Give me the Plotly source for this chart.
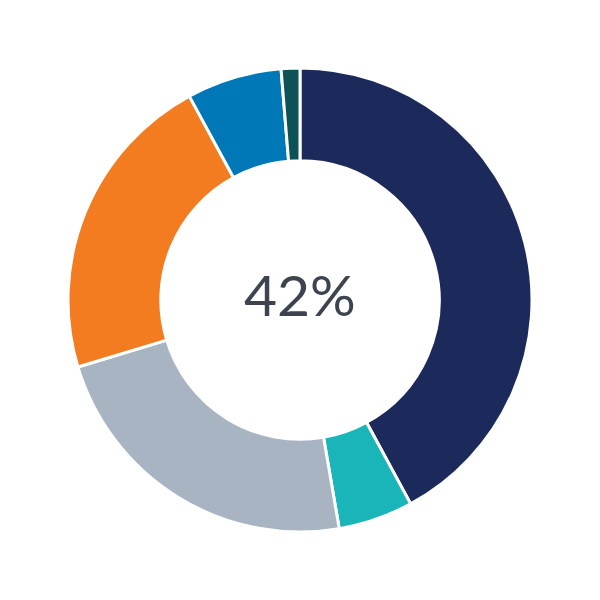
import plotly.graph_objects as go

labels = ['A', 'B', 'C', 'D', 'E', 'F']
values = [42, 5.2, 23, 21.7, 6.6, 1.3]
colors = ['#1b2a5a', '#1ab5b8', '#a9b4c2', '#f47c20', '#0077b6', '#0d5257']
center_text = '42%'

fig = go.Figure(go.Pie(
    labels=labels,
    values=values,
    hole=0.6,
    sort=False,
    direction='clockwise',
    rotation=0,
    marker=dict(colors=colors, line=dict(color='white', width=3)),
    textinfo='none',
    showlegend=False,
))

# center label
fig.add_annotation(text=center_text, x=0.5, y=0.5, xref='paper', yref='paper',
                   yshift=6, showarrow=False,
                   font=dict(family='Lato', size=57, color='#3d4450'))

# the page sits 8px in from the top-left, so shift the plot area back
fig.update_layout(
    width=600, height=600,
    margin=dict(l=60, r=76, t=60, b=76),
    paper_bgcolor='white',
)

fig.write_html("out.html")
